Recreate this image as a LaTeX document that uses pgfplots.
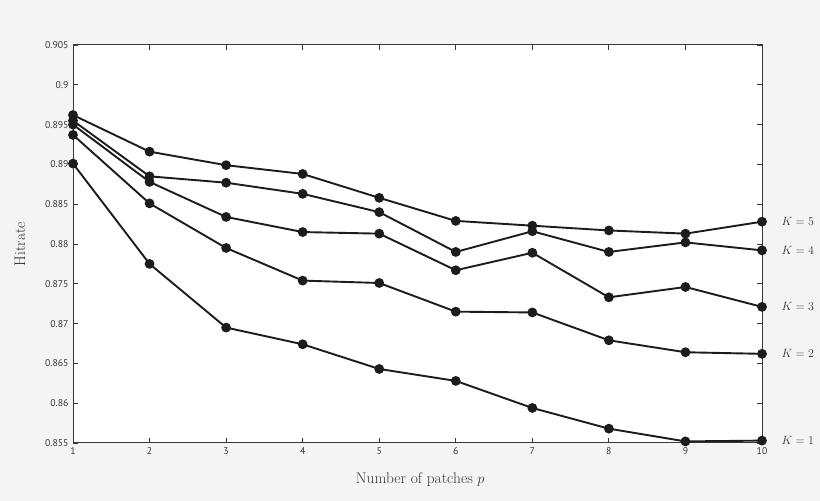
\documentclass[border=0pt]{standalone}
\usepackage{pgfplots}
\pgfplotsset{compat=1.18}
\usepackage{fontspec}
\newfontfamily\tickfont{PT Sans}
\definecolor{bgc}{RGB}{244,244,244}
\definecolor{ln}{RGB}{28,28,28}
\definecolor{tk}{RGB}{55,55,55}
\begin{document}
\begin{tikzpicture}[x=1bp,y=1bp]
\fill[bgc] (0,0) rectangle (820,501);
\begin{axis}[
  at={(73bp,58bp)}, anchor=south west,
  scale only axis, width=689bp, height=398bp,
  xmin=1, xmax=10, ymin=0.855, ymax=0.905,
  xtick={1,2,...,10},
  ytick={0.855,0.86,0.865,0.87,0.875,0.88,0.885,0.89,0.895,0.9,0.905},
  yticklabels={0.855,0.86,0.865,0.87,0.875,0.88,0.885,0.89,0.895,0.9,0.905},
  xticklabels={1,2,3,4,5,6,7,8,9,10},
  scaled y ticks=false,
  tick align=inside, major tick length=5bp,
  axis background/.style={fill=white},
  axis line style={tk, line width=1bp},
  every tick/.style={tk, line width=0.8bp},
  ticklabel style={font=\tickfont\fontsize{9.8}{10}\selectfont, text=tk},
  xticklabel style={yshift=-1bp},
  yticklabel style={xshift=-1bp},
  xlabel={Number of patches $p$},
  ylabel={Hitrate},
  label style={font=\fontsize{15.5}{18}\selectfont, text=tk},
  xlabel style={at={(axis description cs:0.504,-0.093)}, anchor=center},
  ylabel style={at={(axis description cs:-0.077,0.5)}, anchor=center},
  kline/.style={color=ln, solid, line width=1.9bp, mark=*, mark size=3.9bp, mark options={fill=ln, draw=ln, solid}},
  clip=false,
]
% K=1
\addplot[kline] coordinates {(1,0.8901) (2,0.8775) (3,0.8695) (4,0.8674) (5,0.8643) (6,0.8628) (7,0.8594) (8,0.8568) (9,0.8552) (10,0.8553)};
% K=2
\addplot[kline] coordinates {(1,0.8937) (2,0.8851) (3,0.8795) (4,0.8754) (5,0.8751) (6,0.8715) (7,0.8714) (8,0.8679) (9,0.8664) (10,0.8662)};
% K=3
\addplot[kline] coordinates {(1,0.8950) (2,0.8878) (3,0.8834) (4,0.8815) (5,0.8813) (6,0.8767) (7,0.8789) (8,0.8733) (9,0.8746) (10,0.8721)};
% K=4
\addplot[kline] coordinates {(1,0.8955) (2,0.8885) (3,0.8877) (4,0.8863) (5,0.8840) (6,0.8790) (7,0.8816) (8,0.8790) (9,0.8802) (10,0.8792)};
% K=5
\addplot[kline] coordinates {(1,0.8962) (2,0.8916) (3,0.8899) (4,0.8888) (5,0.8858) (6,0.8829) (7,0.8823) (8,0.8817) (9,0.8813) (10,0.8828)};
\begin{scope}[every node/.style={anchor=west, xshift=16bp, text=tk, font=\fontsize{12.5}{14}\selectfont}]
\node at (axis cs:10,0.8553) {$K=1$};
\node at (axis cs:10,0.8662) {$K=2$};
\node at (axis cs:10,0.8721) {$K=3$};
\node at (axis cs:10,0.8792) {$K=4$};
\node at (axis cs:10,0.8828) {$K=5$};
\end{scope}
\end{axis}
\pgfresetboundingbox
\path[use as bounding box] (0,0) rectangle (820,501);
\end{tikzpicture}
\end{document}
